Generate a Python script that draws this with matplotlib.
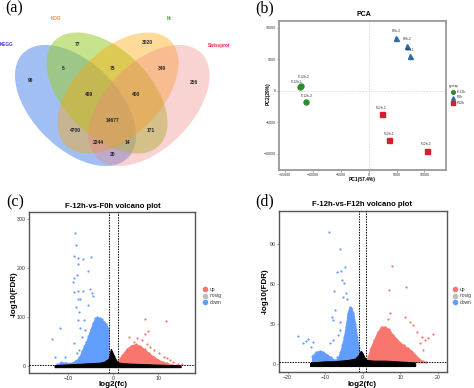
import matplotlib
matplotlib.use('Agg')
import matplotlib.pyplot as plt
from matplotlib.patches import Ellipse
from matplotlib.lines import Line2D

plt.rcParams['font.family'] = ['Liberation Sans', 'DejaVu Sans']

# ---------------- data ----------------
# (a) venn
venn_sets = ['KEGG', 'KOG', 'Nr', 'Swissprot']
venn_counts = [90, 77, 3020, 256, 5, 75, 349, 469, 400, 14677, 4700, 171, 2244, 14, 20]

# (b) PCA
pca_samples = ['F-12h-1', 'F-12h-2', 'F-12h-3', 'F0h-1', 'F0h-2', 'F0h-3', 'F12h-1', 'F12h-2', 'F12h-3']
pca_groups = ['F-12h', 'F-12h', 'F-12h', 'F0h', 'F0h', 'F0h', 'F12h', 'F12h', 'F12h']
pca_pc1 = [-12400, -12100, -11200, 7400, 6900, 4950, 3600, 10400, 2300]
pca_pc2 = [600, 850, -1750, 5550, 7200, 8450, -7800, -9500, -3650]
group_names = ['F-12h', 'F0h', 'F12h']

# (c) F-12h-vs-F0h : dense clouds (upper edge) + scattered points
c_down_x = [-12.5, -11.5, -10.5, -9.5, -8.5, -7.5, -7, -6.5, -6, -5.5, -5, -4.5, -4, -3.5, -3, -2.5, -2, -1.5, -1.05]
c_down_top = [4, 8, 7, 6, 10, 18, 30, 40, 50, 62, 75, 88, 98, 100, 98, 95, 90, 85, 75]
c_up_x = [1, 1.5, 2, 3, 4, 5, 6, 7, 8, 9, 10, 11, 12, 13, 14]
c_up_top = [8, 16, 23, 35, 42, 45, 41, 34, 26, 19, 13, 9, 6, 3, 2]
c_ns_x = [-13, -11, -9, -7, -5, -3, -2, -1, -0.5, 0, 0.5, 1, 2, 4, 7, 10, 13, 15]
c_ns_top = [2, 3, 4, 5, 6, 7, 9, 15, 35, 25, 15, 8, 6, 5, 4, 3, 2, 1.5]
c_ns_floor = -2
c_down_px = [-8.4, -8.2, -8.6, -7.7, -6.8, -4.9, -7.7, -5.5, -8.1, -8.7, -9.0, -8.8, -7.9, -6.7, -5.1,
             -4.7, -7.8, -7.3, -4.4, -5.6, -8.3, -7.5, -11.8, -13.6, -7.8, -7.3, -8.8, -10.7, -13.0,
             -8.1, -7.5, -7.0, -6.2, -6.4]
c_down_py = [272, 247, 225, 220, 218, 222, 208, 194, 186, 179, 172, 152, 154, 154, 157,
             150, 136, 136, 143, 124, 121, 111, 77, 55, 94, 77, 48, 19, 18,
             26, 33, 60, 73, 94]
c_up_px = [7.1, 11.8, 7.8, 7.0, 3.6, 5.4, 4.7, 6.4, 7.5, 8.2, 9.0, 10.1, 11.2, 11.9, 12.7, 13.4, 14.5, 15.3]
c_up_py = [97, 92, 71, 65, 59, 58, 50, 53, 46, 39, 33, 26, 19, 16, 12, 9, 4, 3.5]

# (d) F-12h-vs-F12h
d_down_x = [-13.5, -12.5, -11.5, -10.5, -9.5, -8.5, -7.5, -7, -6.5, -6, -5.5, -5, -4.5, -4, -3.5, -3, -2.5, -2, -1.5, -1.05]
d_down_top = [6, 9, 10, 9, 7, 5, 3, 3, 5, 9, 14, 20, 28, 38, 43, 42, 38, 30, 20, 12]
d_up_x = [1, 1.5, 2, 3, 4, 5, 6, 7, 8, 9, 10, 11, 12, 13, 14, 15, 16, 17]
d_up_top = [3, 6, 11, 18, 24, 28, 28, 26, 22, 19, 16, 14, 12, 10, 7, 4, 2, 1.5]
d_ns_x = [-14, -12, -10, -8, -6, -4, -2, -1, -0.5, 0, 0.5, 1, 3, 6, 9, 12, 14]
d_ns_top = [1, 1.5, 2, 2, 2.5, 3, 4, 7, 10, 8, 5, 3, 2.5, 2.5, 2, 1.5, 1]
d_ns_floor = -1.5
d_down_px = [-8.9, -6.05, -6.9, -5.8, -4.7, -7.65, -5.6, -5.0, -5.3, -4.5, -4.1, -7.4, -8.3, -8.0, -6.05,
             -17.2, -14.5, -15.8, -13.9, -13.2, -15.1, -8.7, -7.8, -6.5, -6.05, -6.9]
d_down_py = [99, 86, 69, 70, 72.5, 55, 63, 60.5, 50, 53, 49, 40.5, 35.5, 33, 31.7,
             21, 18.5, 15.5, 13, 16.3, 17.5, 15.5, 18, 21.7, 25.5, 5.5]
d_up_px = [7.7, 7.1, 11.5, 7.3, 6.8, 11.3, 12.6, 18.7, 14.4, 15.7, 16.6, 17.5, 15.3, 16.2, 13.5, 5.1, 3.7]
d_up_py = [73.5, 55.5, 57.5, 38, 34, 35.5, 31.7, 22.5, 24, 20.5, 18, 19.3, 15.5, 10.5, 29, 26.8, 21.7]

# ---------------- figure ----------------
W, H = 474, 388


def fx(x):
    return x / W


def fy(y):
    return 1 - y / H


fig = plt.figure(figsize=(4.74, 3.88), dpi=100)

# panel letters
for lab, (x, y) in zip(['(a)', '(b)', '(c)', '(d)'], [(14, 8), (265, 8), (15, 202), (265, 201)]):
    fig.text(fx(x), fy(y), lab, family='Liberation Serif', fontsize=11.5, ha='center', va='center')

# ---- (a) venn
axa = fig.add_axes([0, 0.5, 0.5, 0.5])
axa.set_xlim(0, 237)
axa.set_ylim(194, 0)
axa.axis('off')
ell_centers = [(75.5, 105.5), (107, 93), (118, 93), (149, 105.5)]
ell_angles = [45, 45, -45, -45]
ell_colors = ['cornflowerblue', 'yellowgreen', 'orange', 'lightcoral']
ell_alpha = [0.6, 0.55, 0.4, 0.35]
for c, ang, col, al in zip(ell_centers, ell_angles, ell_colors, ell_alpha):
    axa.add_patch(Ellipse(c, 148, 86, angle=ang, facecolor=col, alpha=al, edgecolor='none'))
count_pos = [(31, 81), (78, 44), (147, 43), (194, 82), (63, 69), (113, 69), (162, 69),
             (89, 94), (136, 94), (113, 120), (75, 130), (151, 130), (98, 143), (127, 143), (113, 155)]
for n, (x, y) in zip(venn_counts, count_pos):
    axa.text(x, y, str(n), fontsize=3.5, fontweight='bold', ha='center', va='center', color='#222222')
set_pos = [(7, 45), (56, 19), (169, 19), (219, 45)]
set_colors = ['#3a2fd0', '#f08a3c', '#5aa844', '#e8273c']
for s, (x, y), col in zip(venn_sets, set_pos, set_colors):
    axa.text(x, y, s, fontsize=3.3, fontweight='bold', ha='center', va='center', color=col)

# ---- (b) PCA
axb = fig.add_axes([fx(278.7), fy(170), fx(446) - fx(278.7), fy(21) - fy(170)])
gcol = {'F-12h': '#2e8b2e', 'F0h': '#2f6ba8', 'F12h': '#d3202c'}
gmark = {'F-12h': 'o', 'F0h': '^', 'F12h': 's'}
axb.axhline(0, color='#cccccc', ls=(0, (2, 2)), lw=0.5, zorder=0)
axb.axvline(0, color='#cccccc', ls=(0, (2, 2)), lw=0.5, zorder=0)
lab_off = {'F-12h-1': (-2.5, 2.2), 'F-12h-2': (1.5, 5.0)}
for s, g, x, y in zip(pca_samples, pca_groups, pca_pc1, pca_pc2):
    axb.plot(x, y, marker=gmark[g], color=gcol[g], ms=3.6, ls='none')
    axb.annotate(s, (x, y), xytext=lab_off.get(s, (0, 3.2)), textcoords='offset points', fontsize=2.4,
                 ha='center', va='bottom', color='#333333')
axb.set_xlim(-16200, 13900)
axb.set_ylim(-12540, 11100)
axb.set_xticks([-15000, -10000, -5000, 0, 5000, 10000])
axb.set_yticks([-10000, -5000, 0, 5000, 10000])
axb.tick_params(labelsize=2.6, length=1.5, width=0.4, pad=0.8, colors='#555555', labelcolor='#333333')
for sp in axb.spines.values():
    sp.set_color('#999999')
    sp.set_linewidth(1.3)
fig.text(fx(363.7), fy(15), 'PCA', fontsize=5, fontweight='bold', ha='center', va='center')
fig.text(fx(362), fy(180), 'PC1(57.4%)', fontsize=3.5, fontweight='bold', ha='center', va='center')
fig.text(fx(268), fy(94), 'PC2(29%)', fontsize=3.5, fontweight='bold', ha='center', va='center', rotation=90)
fig.text(fx(449), fy(86), 'group', fontsize=2.8, ha='left', va='center', color='#333333')
for i, g in enumerate(group_names):
    yy = 92 + i * 5.5
    fig.add_artist(Line2D([fx(453)], [fy(yy)], marker=gmark[g], color=gcol[g], ms=2.6, ls='none'))
    fig.text(fx(457), fy(yy), g, fontsize=2.6, ha='left', va='center', color='#333333')


# ---- volcano plots
def volcano(box, title, title_xy, xlab_xy, ylab_xy, xlim, ylim, xticks, yticks,
            dx, dtop, ux, utop, nx, ntop, nfloor, dpx, dpy, upx, upy, leg_xy):
    ax = fig.add_axes(box)
    blue, red = '#619CFF', '#F8766D'
    ax.fill_between(dx, 1.3, dtop, color=blue, lw=0.8, zorder=2)
    ax.fill_between(ux, 1.3, utop, color=red, lw=0.8, zorder=2)
    # ragged edge of the dense clouds
    ax.scatter(dx, dtop, s=2.5, color=blue, lw=0, zorder=3)
    ax.scatter(ux, utop, s=2.5, color=red, lw=0, zorder=3)
    ax.scatter(dpx, dpy, s=2.5, color=blue, lw=0, zorder=3)
    ax.scatter(upx, upy, s=2.5, color=red, lw=0, zorder=3)
    ax.fill_between(nx, nfloor, ntop, color='black', lw=0.8, zorder=4)
    for v in (-1, 1):
        ax.axvline(v, color='black', ls=(0, (1.5, 1.2)), lw=0.7, zorder=5)
    ax.axhline(1.3, color='black', ls=(0, (1.5, 1.2)), lw=0.7, zorder=5)
    ax.set_xlim(*xlim)
    ax.set_ylim(*ylim)
    ax.set_xticks(xticks)
    ax.set_yticks(yticks)
    ax.tick_params(labelsize=3.8, length=1.5, width=0.4, pad=1, colors='#555555', labelcolor='#333333')
    for sp in ax.spines.values():
        sp.set_color('#555555')
        sp.set_linewidth(1.0)
    fig.text(fx(title_xy[0]), fy(title_xy[1]), title, fontsize=5.6, fontweight='bold', ha='center', va='center')
    fig.text(fx(xlab_xy[0]), fy(xlab_xy[1]), 'log2(fc)', fontsize=5.8, fontweight='bold', ha='center', va='center')
    fig.text(fx(ylab_xy[0]), fy(ylab_xy[1]), '-log10(FDR)', fontsize=5.8, fontweight='bold',
             ha='center', va='center', rotation=90)
    for i, (lab, col) in enumerate(zip(['up', 'nosig', 'down'], [red, '#BEBEBE', blue])):
        yy = leg_xy[1] + i * 6.5
        fig.add_artist(Line2D([fx(leg_xy[0])], [fy(yy)], marker='o', color=col, ms=3, ls='none'))
        fig.text(fx(leg_xy[0] + 4.5), fy(yy), lab, fontsize=3.5, ha='left', va='center', color='#333333')
    return ax


volcano([fx(29), fy(373), fx(195) - fx(29), fy(212) - fy(373)], 'F-12h-vs-F0h volcano plot',
        (113, 206), (113, 384), (14, 294), (-18.7, 18.2), (-14, 314), [-10, 0, 10], [0, 100, 200, 300],
        c_down_x, c_down_top, c_up_x, c_up_top, c_ns_x, c_ns_top, c_ns_floor,
        c_down_px, c_down_py, c_up_px, c_up_py, (205, 289))

volcano([fx(279), fy(372), fx(447) - fx(279), fy(211) - fy(372)], 'F-12h-vs-F12h volcano plot',
        (362, 205), (362, 384), (265, 291), (-22.3, 22.5), (-6, 114.8), [-20, -10, 0, 10, 20], [0, 30, 60, 90],
        d_down_x, d_down_top, d_up_x, d_up_top, d_ns_x, d_ns_top, d_ns_floor,
        d_down_px, d_down_py, d_up_px, d_up_py, (455, 289))

fig.savefig('out.png', dpi=100)
